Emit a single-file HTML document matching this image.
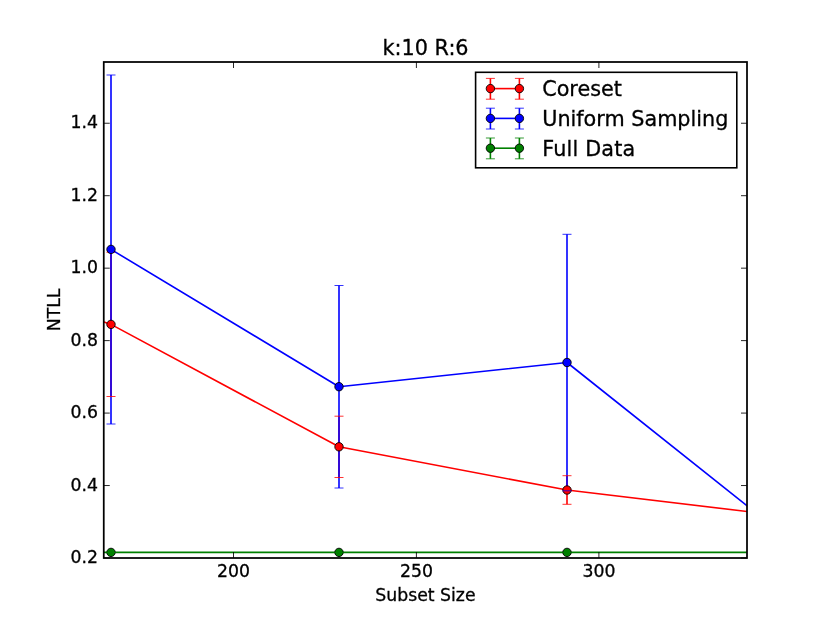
<!DOCTYPE html>
<html><head><meta charset="utf-8"><title>k:10 R:6</title>
<style>
html,body{margin:0;padding:0;background:#fff;}
body{width:830px;height:620px;overflow:hidden;}
svg{display:block;}
text{font-family:'DejaVu Sans','Liberation Sans',sans-serif;fill:#000;stroke:#000;stroke-width:0.3px;}
.t12{font-size:17.3px;}
.t14{font-size:20.75px;}
</style></head><body>
<svg width="830" height="620" viewBox="0 0 830 620">
<rect width="830" height="620" fill="#fff"/>
<defs><clipPath id="ax"><rect x="103.75" y="62.0" width="643.25" height="496.0"/></clipPath></defs>
<g clip-path="url(#ax)">
<line x1="111" x2="111" y1="252.3" y2="396.5" stroke="#ff0000" stroke-width="1.6"/>
<line x1="339.0" x2="339.0" y1="416.2" y2="477.5" stroke="#ff0000" stroke-width="1.6"/>
<line x1="567.0" x2="567.0" y1="475.7" y2="504.3" stroke="#ff0000" stroke-width="1.6"/>
<line x1="111" x2="111" y1="75" y2="424" stroke="#0000ff" stroke-width="1.6"/>
<line x1="339.0" x2="339.0" y1="285.5" y2="488.0" stroke="#0000ff" stroke-width="1.6"/>
<line x1="567.0" x2="567.0" y1="234.3" y2="490.8" stroke="#0000ff" stroke-width="1.6"/>
<polyline points="-117.5,247 111,324.4 339.0,446.8 567.0,490.0 795.5,517.3" fill="none" stroke="#ff0000" stroke-width="1.6" stroke-linejoin="round"/>
<circle cx="-117.5" cy="247" r="4.2" fill="#ff0000" stroke="#000" stroke-width="0.9"/>
<circle cx="111" cy="324.4" r="4.2" fill="#ff0000" stroke="#000" stroke-width="0.9"/>
<circle cx="339.0" cy="446.8" r="4.2" fill="#ff0000" stroke="#000" stroke-width="0.9"/>
<circle cx="567.0" cy="490.0" r="4.2" fill="#ff0000" stroke="#000" stroke-width="0.9"/>
<circle cx="795.5" cy="517.3" r="4.2" fill="#ff0000" stroke="#000" stroke-width="0.9"/>
<line x1="106.5" x2="115.5" y1="396.5" y2="396.5" stroke="#ff0000" stroke-width="0.8"/>
<line x1="106.5" x2="115.5" y1="252.3" y2="252.3" stroke="#ff0000" stroke-width="0.8"/>
<line x1="334.5" x2="343.5" y1="477.5" y2="477.5" stroke="#ff0000" stroke-width="0.8"/>
<line x1="334.5" x2="343.5" y1="416.2" y2="416.2" stroke="#ff0000" stroke-width="0.8"/>
<line x1="562.5" x2="571.5" y1="504.3" y2="504.3" stroke="#ff0000" stroke-width="0.8"/>
<line x1="562.5" x2="571.5" y1="475.7" y2="475.7" stroke="#ff0000" stroke-width="0.8"/>
<polyline points="111,249.4 339.0,386.7 567.0,362.5 795.5,544.3" fill="none" stroke="#0000ff" stroke-width="1.6" stroke-linejoin="round"/>
<circle cx="111" cy="249.4" r="4.2" fill="#0000ff" stroke="#000" stroke-width="0.9"/>
<circle cx="339.0" cy="386.7" r="4.2" fill="#0000ff" stroke="#000" stroke-width="0.9"/>
<circle cx="567.0" cy="362.5" r="4.2" fill="#0000ff" stroke="#000" stroke-width="0.9"/>
<circle cx="795.5" cy="544.3" r="4.2" fill="#0000ff" stroke="#000" stroke-width="0.9"/>
<line x1="106.5" x2="115.5" y1="424" y2="424" stroke="#0000ff" stroke-width="0.8"/>
<line x1="106.5" x2="115.5" y1="75" y2="75" stroke="#0000ff" stroke-width="0.8"/>
<line x1="334.5" x2="343.5" y1="488.0" y2="488.0" stroke="#0000ff" stroke-width="0.8"/>
<line x1="334.5" x2="343.5" y1="285.5" y2="285.5" stroke="#0000ff" stroke-width="0.8"/>
<line x1="562.5" x2="571.5" y1="490.8" y2="490.8" stroke="#0000ff" stroke-width="0.8"/>
<line x1="562.5" x2="571.5" y1="234.3" y2="234.3" stroke="#0000ff" stroke-width="0.8"/>
<polyline points="-117.5,552.4 111,552.4 339.0,552.4 567.0,552.4 795.5,552.4" fill="none" stroke="#008000" stroke-width="1.6" stroke-linejoin="round"/>
<circle cx="-117.5" cy="552.4" r="4.2" fill="#008000" stroke="#000" stroke-width="0.9"/>
<circle cx="111" cy="552.4" r="4.2" fill="#008000" stroke="#000" stroke-width="0.9"/>
<circle cx="339.0" cy="552.4" r="4.2" fill="#008000" stroke="#000" stroke-width="0.9"/>
<circle cx="567.0" cy="552.4" r="4.2" fill="#008000" stroke="#000" stroke-width="0.9"/>
<circle cx="795.5" cy="552.4" r="4.2" fill="#008000" stroke="#000" stroke-width="0.9"/>
<line x1="106.5" x2="115.5" y1="552.4" y2="552.4" stroke="#008000" stroke-width="0.8"/>
<line x1="106.5" x2="115.5" y1="552.4" y2="552.4" stroke="#008000" stroke-width="0.8"/>
<line x1="334.5" x2="343.5" y1="552.4" y2="552.4" stroke="#008000" stroke-width="0.8"/>
<line x1="334.5" x2="343.5" y1="552.4" y2="552.4" stroke="#008000" stroke-width="0.8"/>
<line x1="562.5" x2="571.5" y1="552.4" y2="552.4" stroke="#008000" stroke-width="0.8"/>
<line x1="562.5" x2="571.5" y1="552.4" y2="552.4" stroke="#008000" stroke-width="0.8"/>
</g>
<rect x="103.75" y="62.0" width="643.25" height="496.0" fill="none" stroke="#000" stroke-width="1.75"/>
<line x1="233.50" x2="233.50" y1="558.0" y2="552.0" stroke="#000" stroke-width="0.85"/>
<line x1="233.50" x2="233.50" y1="62.0" y2="68.0" stroke="#000" stroke-width="0.85"/>
<text class="t12" x="233.50" y="577.1" text-anchor="middle">200</text>
<line x1="416.40" x2="416.40" y1="558.0" y2="552.0" stroke="#000" stroke-width="0.85"/>
<line x1="416.40" x2="416.40" y1="62.0" y2="68.0" stroke="#000" stroke-width="0.85"/>
<text class="t12" x="416.40" y="577.1" text-anchor="middle">250</text>
<line x1="598.90" x2="598.90" y1="558.0" y2="552.0" stroke="#000" stroke-width="0.85"/>
<line x1="598.90" x2="598.90" y1="62.0" y2="68.0" stroke="#000" stroke-width="0.85"/>
<text class="t12" x="598.90" y="577.1" text-anchor="middle">300</text>
<line x1="103.75" x2="109.75" y1="558.00" y2="558.00" stroke="#000" stroke-width="0.85"/>
<line x1="747.0" x2="741.0" y1="558.00" y2="558.00" stroke="#000" stroke-width="0.85"/>
<text class="t12" x="98.0" y="563.00" text-anchor="end">0.2</text>
<line x1="103.75" x2="109.75" y1="485.54" y2="485.54" stroke="#000" stroke-width="0.85"/>
<line x1="747.0" x2="741.0" y1="485.54" y2="485.54" stroke="#000" stroke-width="0.85"/>
<text class="t12" x="98.0" y="490.54" text-anchor="end">0.4</text>
<line x1="103.75" x2="109.75" y1="413.08" y2="413.08" stroke="#000" stroke-width="0.85"/>
<line x1="747.0" x2="741.0" y1="413.08" y2="413.08" stroke="#000" stroke-width="0.85"/>
<text class="t12" x="98.0" y="418.08" text-anchor="end">0.6</text>
<line x1="103.75" x2="109.75" y1="340.62" y2="340.62" stroke="#000" stroke-width="0.85"/>
<line x1="747.0" x2="741.0" y1="340.62" y2="340.62" stroke="#000" stroke-width="0.85"/>
<text class="t12" x="98.0" y="345.62" text-anchor="end">0.8</text>
<line x1="103.75" x2="109.75" y1="268.16" y2="268.16" stroke="#000" stroke-width="0.85"/>
<line x1="747.0" x2="741.0" y1="268.16" y2="268.16" stroke="#000" stroke-width="0.85"/>
<text class="t12" x="98.0" y="273.16" text-anchor="end">1.0</text>
<line x1="103.75" x2="109.75" y1="195.70" y2="195.70" stroke="#000" stroke-width="0.85"/>
<line x1="747.0" x2="741.0" y1="195.70" y2="195.70" stroke="#000" stroke-width="0.85"/>
<text class="t12" x="98.0" y="200.70" text-anchor="end">1.2</text>
<line x1="103.75" x2="109.75" y1="123.24" y2="123.24" stroke="#000" stroke-width="0.85"/>
<line x1="747.0" x2="741.0" y1="123.24" y2="123.24" stroke="#000" stroke-width="0.85"/>
<text class="t12" x="98.0" y="128.24" text-anchor="end">1.4</text>
<text class="t14" x="425.6" y="54.85" text-anchor="middle">k:10 R:6</text>
<text class="t12" x="425.4" y="600.9" text-anchor="middle">Subset Size</text>
<text class="t12" transform="translate(60.1,309.9) rotate(-90)" text-anchor="middle">NTLL</text>
<rect x="475.6" y="72.3" width="261.19999999999993" height="95.50000000000001" fill="#fff" stroke="#000" stroke-width="1.6"/>
<line x1="490.4" x2="490.4" y1="78.39999999999999" y2="99.19999999999999" stroke="#ff0000" stroke-width="1.6"/>
<line x1="519.4" x2="519.4" y1="78.39999999999999" y2="99.19999999999999" stroke="#ff0000" stroke-width="1.6"/>
<line x1="490.4" x2="519.4" y1="88.6" y2="88.6" stroke="#ff0000" stroke-width="1.6"/>
<circle cx="490.4" cy="88.6" r="4.2" fill="#ff0000" stroke="#000" stroke-width="0.9"/>
<line x1="485.9" x2="494.9" y1="78.39999999999999" y2="78.39999999999999" stroke="#ff0000" stroke-width="0.8"/>
<line x1="485.9" x2="494.9" y1="99.19999999999999" y2="99.19999999999999" stroke="#ff0000" stroke-width="0.8"/>
<circle cx="519.4" cy="88.6" r="4.2" fill="#ff0000" stroke="#000" stroke-width="0.9"/>
<line x1="514.9" x2="523.9" y1="78.39999999999999" y2="78.39999999999999" stroke="#ff0000" stroke-width="0.8"/>
<line x1="514.9" x2="523.9" y1="99.19999999999999" y2="99.19999999999999" stroke="#ff0000" stroke-width="0.8"/>
<text class="t14" x="542.2" y="96.20">Coreset</text>
<line x1="490.4" x2="490.4" y1="108.2" y2="129.0" stroke="#0000ff" stroke-width="1.6"/>
<line x1="519.4" x2="519.4" y1="108.2" y2="129.0" stroke="#0000ff" stroke-width="1.6"/>
<line x1="490.4" x2="519.4" y1="118.4" y2="118.4" stroke="#0000ff" stroke-width="1.6"/>
<circle cx="490.4" cy="118.4" r="4.2" fill="#0000ff" stroke="#000" stroke-width="0.9"/>
<line x1="485.9" x2="494.9" y1="108.2" y2="108.2" stroke="#0000ff" stroke-width="0.8"/>
<line x1="485.9" x2="494.9" y1="129.0" y2="129.0" stroke="#0000ff" stroke-width="0.8"/>
<circle cx="519.4" cy="118.4" r="4.2" fill="#0000ff" stroke="#000" stroke-width="0.9"/>
<line x1="514.9" x2="523.9" y1="108.2" y2="108.2" stroke="#0000ff" stroke-width="0.8"/>
<line x1="514.9" x2="523.9" y1="129.0" y2="129.0" stroke="#0000ff" stroke-width="0.8"/>
<text class="t14" x="542.2" y="126.00">Uniform Sampling</text>
<line x1="490.4" x2="490.4" y1="138.0" y2="158.79999999999998" stroke="#008000" stroke-width="1.6"/>
<line x1="519.4" x2="519.4" y1="138.0" y2="158.79999999999998" stroke="#008000" stroke-width="1.6"/>
<line x1="490.4" x2="519.4" y1="148.2" y2="148.2" stroke="#008000" stroke-width="1.6"/>
<circle cx="490.4" cy="148.2" r="4.2" fill="#008000" stroke="#000" stroke-width="0.9"/>
<line x1="485.9" x2="494.9" y1="138.0" y2="138.0" stroke="#008000" stroke-width="0.8"/>
<line x1="485.9" x2="494.9" y1="158.79999999999998" y2="158.79999999999998" stroke="#008000" stroke-width="0.8"/>
<circle cx="519.4" cy="148.2" r="4.2" fill="#008000" stroke="#000" stroke-width="0.9"/>
<line x1="514.9" x2="523.9" y1="138.0" y2="138.0" stroke="#008000" stroke-width="0.8"/>
<line x1="514.9" x2="523.9" y1="158.79999999999998" y2="158.79999999999998" stroke="#008000" stroke-width="0.8"/>
<text class="t14" x="542.2" y="155.80" letter-spacing="0.18">Full Data</text>
</svg></body></html>
